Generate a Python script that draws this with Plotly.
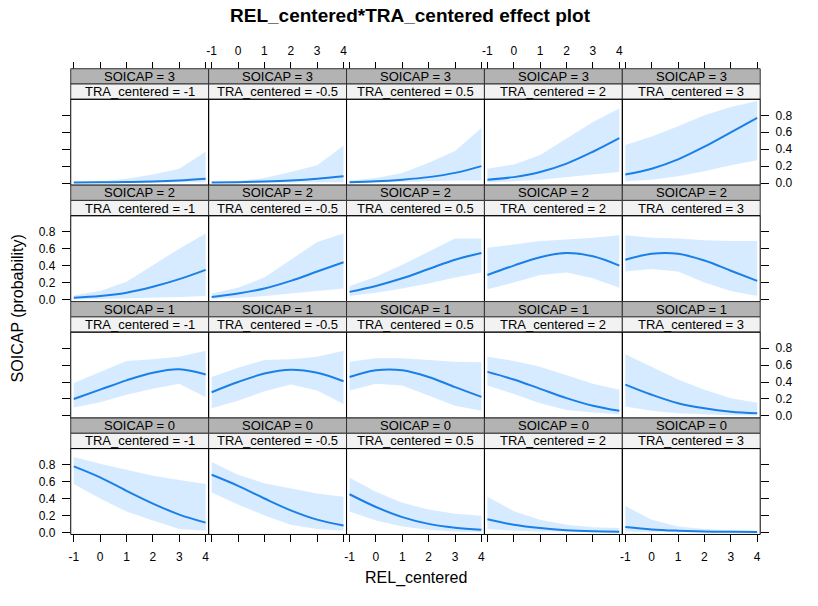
import plotly.graph_objects as go

W, H = 818, 606

rel = [-1, 0, 1, 2, 3, 4]
tra_levels = ["-1", "-0.5", "0.5", "2", "3"]
soicap_rows = ["3", "2", "1", "0"]  # top to bottom

# SOICAP = 3 : fitted, upper, lower for each TRA level
fit_s3 = [[0.005, 0.008, 0.012, 0.018, 0.03, 0.05],
          [0.005, 0.01, 0.018, 0.03, 0.05, 0.08],
          [0.01, 0.02, 0.04, 0.07, 0.12, 0.2],
          [0.04, 0.07, 0.13, 0.23, 0.37, 0.53],
          [0.10, 0.17, 0.28, 0.43, 0.60, 0.77]]
up_s3 = [[0.01, 0.02, 0.05, 0.10, 0.17, 0.37],
         [0.01, 0.025, 0.06, 0.13, 0.21, 0.44],
         [0.03, 0.06, 0.12, 0.24, 0.38, 0.65],
         [0.17, 0.22, 0.33, 0.52, 0.72, 0.88],
         [0.45, 0.55, 0.67, 0.80, 0.90, 0.97]]
lo_s3 = [[0.0, 0.003, 0.005, 0.006, 0.007, 0.008],
         [0.0, 0.003, 0.006, 0.008, 0.01, 0.01],
         [0.0, 0.005, 0.01, 0.02, 0.03, 0.03],
         [0.005, 0.02, 0.04, 0.07, 0.10, 0.13],
         [0.02, 0.04, 0.08, 0.14, 0.21, 0.27]]

# SOICAP = 2
fit_s2 = [[0.02, 0.04, 0.08, 0.15, 0.24, 0.35],
          [0.03, 0.07, 0.13, 0.22, 0.33, 0.44],
          [0.09, 0.16, 0.25, 0.36, 0.47, 0.55],
          [0.29, 0.40, 0.50, 0.55, 0.51, 0.40],
          [0.47, 0.54, 0.54, 0.46, 0.34, 0.22]]
up_s2 = [[0.05, 0.10, 0.21, 0.41, 0.60, 0.78],
         [0.07, 0.14, 0.26, 0.47, 0.68, 0.78],
         [0.16, 0.27, 0.41, 0.56, 0.72, 0.72],
         [0.61, 0.65, 0.69, 0.71, 0.73, 0.76],
         [0.76, 0.73, 0.72, 0.70, 0.69, 0.69]]
lo_s2 = [[0.0, 0.005, 0.01, 0.02, 0.03, 0.04],
         [0.01, 0.02, 0.04, 0.07, 0.10, 0.13],
         [0.04, 0.08, 0.13, 0.19, 0.26, 0.32],
         [0.12, 0.20, 0.29, 0.32, 0.25, 0.14],
         [0.33, 0.36, 0.33, 0.20, 0.10, 0.04]]

# SOICAP = 1
fit_s1 = [[0.20, 0.31, 0.42, 0.51, 0.55, 0.49],
          [0.28, 0.40, 0.50, 0.545, 0.51, 0.41],
          [0.46, 0.54, 0.54, 0.46, 0.34, 0.225],
          [0.52, 0.43, 0.32, 0.21, 0.12, 0.06],
          [0.37, 0.25, 0.15, 0.09, 0.05, 0.03]]
up_s1 = [[0.39, 0.52, 0.65, 0.67, 0.70, 0.77],
         [0.46, 0.57, 0.66, 0.67, 0.70, 0.77],
         [0.64, 0.68, 0.68, 0.66, 0.64, 0.635],
         [0.70, 0.65, 0.58, 0.48, 0.38, 0.31],
         [0.73, 0.58, 0.43, 0.31, 0.21, 0.155]]
lo_s1 = [[0.10, 0.16, 0.25, 0.32, 0.38, 0.22],
         [0.09, 0.18, 0.29, 0.37, 0.30, 0.14],
         [0.30, 0.38, 0.36, 0.24, 0.12, 0.06],
         [0.36, 0.26, 0.15, 0.07, 0.04, 0.02],
         [0.11, 0.06, 0.03, 0.015, 0.008, 0.005]]

# SOICAP = 0
fit_s0 = [[0.78, 0.65, 0.49, 0.34, 0.21, 0.115],
          [0.68, 0.55, 0.40, 0.26, 0.15, 0.08],
          [0.45, 0.30, 0.18, 0.10, 0.055, 0.03],
          [0.155, 0.09, 0.05, 0.025, 0.013, 0.008],
          [0.062, 0.035, 0.02, 0.01, 0.006, 0.003]]
up_s0 = [[0.89, 0.81, 0.74, 0.67, 0.62, 0.57],
         [0.83, 0.68, 0.58, 0.52, 0.46, 0.42],
         [0.645, 0.48, 0.35, 0.27, 0.22, 0.195],
         [0.42, 0.25, 0.15, 0.09, 0.06, 0.05],
         [0.31, 0.15, 0.07, 0.04, 0.025, 0.02]]
lo_s0 = [[0.57, 0.40, 0.245, 0.14, 0.04, 0.02],
         [0.47, 0.33, 0.20, 0.09, 0.04, 0.02],
         [0.245, 0.14, 0.07, 0.03, 0.01, 0.005],
         [0.04, 0.02, 0.01, 0.005, 0.002, 0.001],
         [0.01, 0.005, 0.002, 0.001, 0.0, 0.0]]

x_ticks = [-1, 0, 1, 2, 3, 4]
y_ticks = [0.0, 0.2, 0.4, 0.6, 0.8]

fits = [fit_s3, fit_s2, fit_s1, fit_s0]
ups = [up_s3, up_s2, up_s1, up_s0]
los = [lo_s3, lo_s2, lo_s1, lo_s0]

LINE = "#1a7fe6"
BAND = "rgba(0,128,255,0.16)"
FONT = "Liberation Sans, Arial, sans-serif"

col_left0, col_w = 69.0, 138.4
row_top0, row_h = 69.3, 117.4
strip_h = 15.4

def fx(px):
    return px / W

def fy(py):
    return 1 - py / H

fig = go.Figure()
layout = {}
shapes = []
annotations = []

for r in range(4):
    for c in range(5):
        k = r * 5 + c + 1
        sfx = "" if k == 1 else str(k)
        L = col_left0 + c * col_w
        R = L + col_w
        T = row_top0 + r * row_h
        s1b = T + strip_h
        s2b = T + 2 * strip_h
        B = T + row_h

        up = ups[r][c]
        lo = los[r][c]
        fit = fits[r][c]
        fig.add_trace(go.Scatter(
            x=rel + rel[::-1], y=up + lo[::-1], fill="toself",
            fillcolor=BAND, line=dict(width=0), mode="lines",
            hoverinfo="skip", showlegend=False,
            xaxis="x" + sfx, yaxis="y" + sfx))
        fig.add_trace(go.Scatter(
            x=rel, y=fit, mode="lines",
            line=dict(color=LINE, width=2, shape="spline", smoothing=1.0),
            showlegend=False, xaxis="x" + sfx, yaxis="y" + sfx))

        xa = dict(domain=[fx(L), fx(R)], range=[-1.114, 4.114],
                  showgrid=False, zeroline=False, showline=False,
                  tickvals=x_ticks, ticktext=[str(v) for v in x_ticks],
                  tickfont=dict(size=12, color="black", family=FONT),
                  anchor="y" + sfx, fixedrange=True)
        if r == 3:
            xa.update(ticks="outside", ticklen=7, tickcolor="black",
                      showticklabels=(c % 2 == 0), side="bottom",
                      ticklabelstandoff=4)
        elif r == 0:
            xa.update(ticks="outside", ticklen=7, tickcolor="black",
                      showticklabels=(c % 2 == 1), side="top",
                      anchor="free", position=fy(T), ticklabelstandoff=2)
        else:
            xa.update(ticks="", showticklabels=False)
        layout["xaxis" + sfx] = xa

        ya = dict(domain=[fy(B), fy(s2b)], range=[-0.025, 0.99],
                  showgrid=False, zeroline=False, showline=False,
                  tickvals=y_ticks, ticktext=["%.1f" % v for v in y_ticks],
                  tickfont=dict(size=12, color="black", family=FONT),
                  anchor="x" + sfx, fixedrange=True)
        if c == 0:
            ya.update(ticks="outside", ticklen=8, tickcolor="black",
                      side="left", showticklabels=(r % 2 == 1),
                      ticklabelstandoff=4)
        elif c == 4:
            ya.update(ticks="outside", ticklen=8, tickcolor="black",
                      side="right", showticklabels=(r % 2 == 0),
                      ticklabelstandoff=4)
        else:
            ya.update(ticks="", showticklabels=False)
        layout["yaxis" + sfx] = ya

        # strips
        shapes.append(dict(type="rect", xref="paper", yref="paper",
                           x0=fx(L), x1=fx(R), y0=fy(s1b), y1=fy(T),
                           fillcolor="#b3b3b3", line=dict(color="#333333", width=1),
                           layer="above"))
        shapes.append(dict(type="rect", xref="paper", yref="paper",
                           x0=fx(L), x1=fx(R), y0=fy(s2b), y1=fy(s1b),
                           fillcolor="#f2f2f2", line=dict(color="#333333", width=1),
                           layer="above"))
        # panel border
        shapes.append(dict(type="rect", xref="paper", yref="paper",
                           x0=fx(L), x1=fx(R), y0=fy(B), y1=fy(s2b),
                           line=dict(color="black", width=1), layer="above"))
        annotations.append(dict(text="SOICAP = " + soicap_rows[r],
                                xref="paper", yref="paper",
                                x=fx((L + R) / 2), y=fy((T + s1b) / 2),
                                showarrow=False, xanchor="center", yanchor="middle",
                                font=dict(size=13, color="black", family=FONT)))
        annotations.append(dict(text="TRA_centered = " + tra_levels[c],
                                xref="paper", yref="paper",
                                x=fx((L + R) / 2), y=fy((s1b + s2b) / 2),
                                showarrow=False, xanchor="center", yanchor="middle",
                                font=dict(size=13, color="black", family=FONT)))

annotations.append(dict(text="<b>REL_centered*TRA_centered effect plot</b>",
                        xref="paper", yref="paper", x=fx(410), y=fy(16),
                        showarrow=False, xanchor="center", yanchor="middle",
                        font=dict(size=19, color="black", family=FONT)))
annotations.append(dict(text="REL_centered", xref="paper", yref="paper",
                        x=fx(416), y=fy(583), showarrow=False,
                        xanchor="center", yanchor="middle",
                        font=dict(size=16, color="black", family=FONT)))
annotations.append(dict(text="SOICAP (probability)", xref="paper", yref="paper",
                        x=fx(15), y=fy(311), showarrow=False, textangle=-90,
                        xanchor="center", yanchor="middle",
                        font=dict(size=16, color="black", family=FONT)))

fig.update_layout(width=W, height=H, margin=dict(l=0, r=0, t=0, b=0),
                  paper_bgcolor="white", plot_bgcolor="white",
                  shapes=shapes, annotations=annotations,
                  font=dict(family=FONT, color="black"), **layout)

fig.write_html("out.html", config={"displayModeBar": False},
               post_script="document.body.style.margin='0px';document.body.style.overflow='hidden';")
